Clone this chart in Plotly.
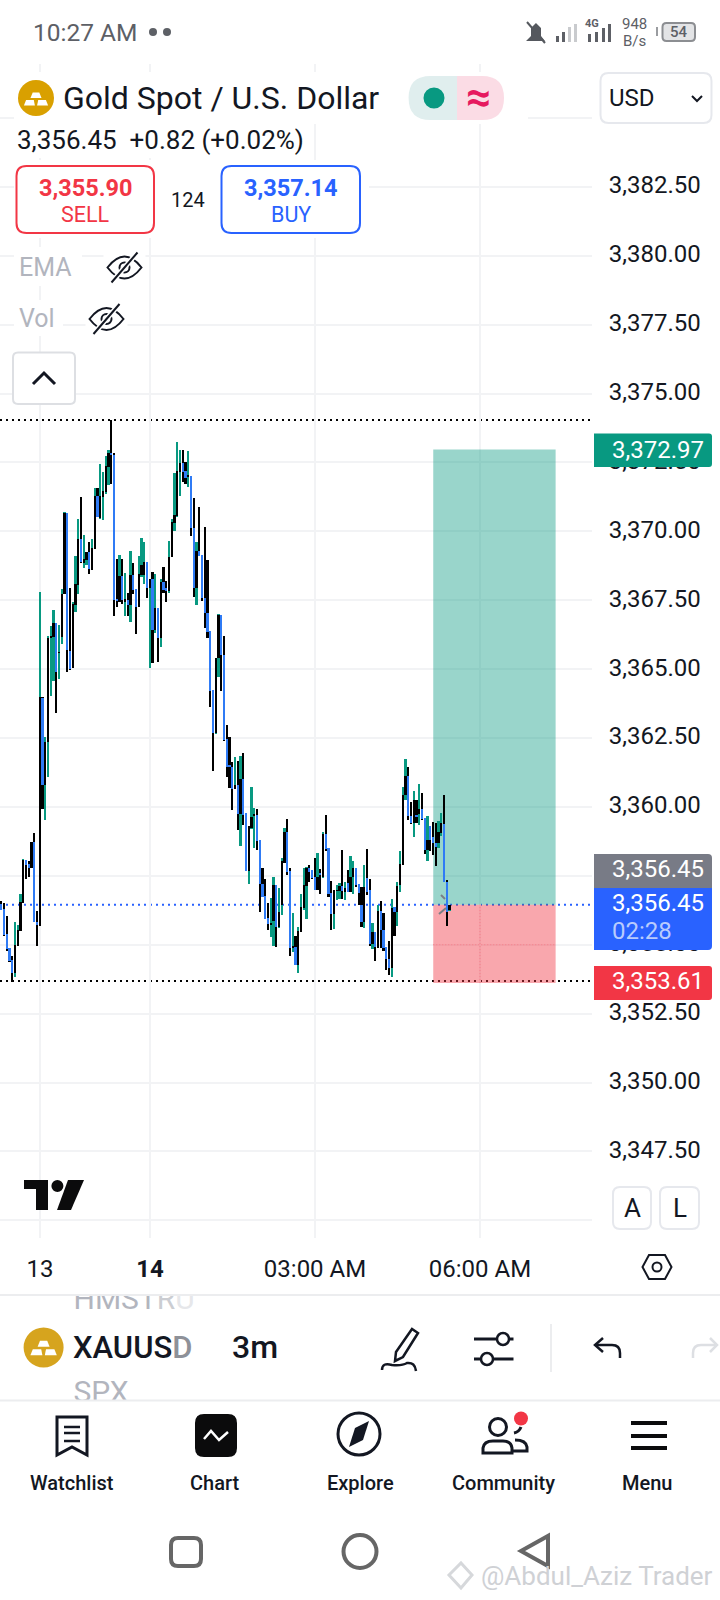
import plotly.graph_objects as go

# 3m XAUUSD bars
bar_open = [
    3356.48, 3356.30, 3355.39, 3354.88, 3354.45, 3353.97, 3354.95, 3355.51, 3356.52, 3358.07,
    3357.93, 3357.79, 3358.73, 3355.83, 3355.68, 3363.94, 3360.79, 3362.35, 3366.16, 3366.18,
    3366.66, 3365.60, 3366.18, 3367.71, 3370.65, 3365.66, 3365.03, 3367.33, 3368.05, 3369.72,
    3368.86, 3368.96, 3369.24, 3368.60, 3369.37, 3371.28, 3370.50, 3371.26, 3371.44, 3372.34,
    3372.85, 3372.77, 3367.55, 3367.45, 3368.39, 3367.47, 3367.51, 3367.33, 3368.41, 3367.91,
    3367.26, 3368.40, 3368.41, 3368.89, 3367.94, 3368.27, 3366.42, 3367.22, 3366.14, 3368.17,
    3367.94, 3367.83, 3369.08, 3370.29, 3370.55, 3372.16, 3372.48, 3372.19, 3371.96, 3372.01,
    3370.13, 3367.93, 3369.29, 3369.14, 3367.59, 3367.04, 3366.38, 3364.24, 3362.69, 3365.39,
    3366.96, 3365.51, 3362.46, 3361.52, 3361.46, 3360.65, 3360.79, 3359.74, 3361.00, 3359.77,
    3357.69, 3359.25, 3359.67, 3359.71, 3358.80, 3357.20, 3356.77, 3355.96, 3355.75, 3355.86,
    3357.17, 3355.65, 3356.44, 3357.98, 3359.10, 3357.67, 3354.87, 3354.93, 3354.26, 3355.47,
    3356.32, 3357.13, 3357.78, 3357.71, 3357.45, 3356.98, 3357.60, 3357.45, 3359.02, 3358.50,
    3356.87, 3356.11, 3356.95, 3356.96, 3357.13, 3356.91, 3357.25, 3356.91, 3357.45, 3357.78,
    3357.19, 3356.44, 3355.83, 3357.41, 3356.98, 3355.03, 3355.46, 3354.89, 3356.22, 3355.53,
    3354.93, 3354.49, 3354.14, 3356.37, 3356.20, 3357.17, 3357.89, 3360.43, 3361.12, 3359.67,
    3359.40, 3359.71, 3359.74, 3359.91, 3359.59, 3358.44, 3359.32, 3358.92, 3358.69, 3358.69,
    3359.04, 3359.38, 3357.29, 3356.26,
]
bar_high = [
    3356.59, 3356.50, 3356.04, 3354.88, 3354.59, 3355.82, 3355.71, 3356.84, 3358.11, 3358.07,
    3358.04, 3358.73, 3359.04, 3356.21, 3367.80, 3364.00, 3362.53, 3366.20, 3366.56, 3367.14,
    3366.66, 3366.60, 3367.90, 3370.69, 3370.66, 3367.93, 3367.43, 3369.10, 3370.44, 3371.23,
    3369.87, 3369.25, 3369.61, 3369.72, 3371.57, 3371.57, 3372.44, 3372.15, 3372.73, 3372.95,
    3374.04, 3372.85, 3369.00, 3369.14, 3369.00, 3368.48, 3367.76, 3369.29, 3368.85, 3367.91,
    3369.10, 3369.76, 3369.61, 3368.89, 3368.27, 3368.51, 3368.45, 3367.22, 3368.26, 3368.70,
    3368.20, 3369.65, 3370.45, 3372.12, 3373.24, 3372.95, 3372.95, 3372.51, 3372.91, 3372.01,
    3371.20, 3369.60, 3370.88, 3369.14, 3370.16, 3368.95, 3366.38, 3364.24, 3365.41, 3367.00,
    3366.96, 3366.20, 3362.97, 3362.54, 3361.63, 3361.81, 3361.67, 3361.85, 3361.96, 3359.77,
    3359.31, 3360.71, 3359.96, 3359.92, 3358.80, 3357.78, 3357.38, 3356.51, 3356.69, 3357.46,
    3357.17, 3357.06, 3358.13, 3359.22, 3359.56, 3357.78, 3356.14, 3355.32, 3355.63, 3356.84,
    3357.78, 3357.82, 3357.89, 3357.71, 3358.13, 3358.32, 3357.75, 3359.10, 3359.71, 3358.50,
    3357.31, 3356.98, 3357.17, 3357.24, 3358.44, 3357.26, 3357.71, 3358.22, 3358.04, 3357.78,
    3357.19, 3357.09, 3357.89, 3358.47, 3357.38, 3355.79, 3355.46, 3356.44, 3356.59, 3356.15,
    3354.93, 3355.15, 3356.66, 3356.37, 3357.26, 3358.40, 3360.73, 3361.74, 3361.44, 3360.19,
    3360.58, 3360.25, 3360.83, 3360.49, 3359.59, 3359.67, 3359.32, 3359.45, 3359.40, 3359.49,
    3359.77, 3360.43, 3357.35, 3356.45,
]
bar_low = [
    3356.26, 3355.32, 3354.78, 3354.38, 3353.66, 3353.84, 3354.95, 3355.51, 3356.52, 3357.37,
    3357.45, 3357.79, 3355.81, 3354.95, 3355.68, 3359.92, 3359.52, 3361.10, 3364.02, 3364.58,
    3363.42, 3364.64, 3365.91, 3367.71, 3364.91, 3364.95, 3365.03, 3367.08, 3367.72, 3368.84,
    3368.68, 3368.78, 3368.46, 3368.60, 3369.37, 3370.53, 3370.45, 3370.41, 3371.35, 3371.68,
    3371.72, 3366.93, 3367.26, 3367.45, 3367.35, 3366.93, 3366.93, 3366.71, 3367.72, 3366.27,
    3367.26, 3368.35, 3368.09, 3367.58, 3365.05, 3365.21, 3366.32, 3365.27, 3365.80, 3367.75,
    3367.45, 3367.77, 3369.08, 3370.01, 3370.53, 3371.29, 3371.80, 3371.72, 3371.62, 3369.83,
    3367.62, 3367.33, 3369.11, 3367.47, 3366.50, 3366.14, 3363.64, 3361.31, 3362.65, 3364.72,
    3364.21, 3362.39, 3361.08, 3360.69, 3359.89, 3360.65, 3359.16, 3358.58, 3359.34, 3357.69,
    3357.20, 3359.20, 3358.51, 3358.44, 3356.19, 3356.73, 3355.93, 3355.53, 3355.28, 3354.95,
    3354.93, 3355.61, 3356.08, 3357.98, 3357.53, 3354.60, 3354.75, 3354.26, 3353.98, 3355.46,
    3356.26, 3355.94, 3357.29, 3357.38, 3356.98, 3356.98, 3356.84, 3357.42, 3358.40, 3356.74,
    3355.53, 3355.57, 3356.62, 3356.66, 3356.66, 3356.62, 3356.91, 3356.91, 3356.84, 3357.10,
    3356.44, 3355.63, 3355.61, 3356.80, 3354.95, 3354.84, 3354.42, 3354.89, 3354.87, 3354.77,
    3354.08, 3353.90, 3353.84, 3355.32, 3355.69, 3356.92, 3357.89, 3360.25, 3359.52, 3359.38,
    3358.92, 3359.42, 3359.34, 3359.52, 3358.29, 3358.05, 3358.40, 3358.25, 3357.86, 3358.52,
    3358.94, 3357.29, 3355.69, 3356.23,
]
bar_close = [
    3356.26, 3355.35, 3354.83, 3354.42, 3353.97, 3354.99, 3355.53, 3356.55, 3358.09, 3357.89,
    3357.78, 3358.73, 3355.81, 3355.71, 3364.00, 3360.79, 3362.37, 3366.13, 3366.17, 3366.66,
    3364.91, 3365.61, 3367.72, 3370.66, 3365.69, 3364.99, 3367.36, 3368.09, 3369.71, 3368.88,
    3368.98, 3369.25, 3368.62, 3369.38, 3371.28, 3370.53, 3371.28, 3371.45, 3372.37, 3372.83,
    3372.80, 3367.51, 3367.47, 3368.38, 3367.51, 3367.53, 3367.33, 3368.41, 3367.87, 3367.26,
    3368.45, 3368.78, 3368.89, 3367.94, 3368.27, 3366.42, 3367.21, 3366.13, 3368.17, 3367.87,
    3367.87, 3369.08, 3370.33, 3370.59, 3372.19, 3372.48, 3372.16, 3371.94, 3372.04, 3370.13,
    3367.93, 3369.29, 3369.11, 3367.59, 3367.02, 3366.36, 3364.21, 3362.69, 3365.41, 3366.96,
    3365.51, 3362.43, 3361.45, 3361.46, 3360.65, 3360.79, 3359.74, 3361.00, 3359.71, 3357.69,
    3359.31, 3359.62, 3359.74, 3358.76, 3357.20, 3356.73, 3355.93, 3355.75, 3355.79, 3357.17,
    3355.65, 3356.18, 3358.04, 3359.10, 3357.65, 3354.87, 3354.95, 3354.26, 3355.50, 3356.36,
    3357.17, 3357.78, 3357.64, 3357.42, 3356.98, 3357.45, 3357.53, 3359.02, 3358.46, 3356.84,
    3356.11, 3356.98, 3356.98, 3357.13, 3356.96, 3357.06, 3356.91, 3357.47, 3357.78, 3357.17,
    3356.87, 3355.83, 3357.08, 3356.92, 3355.03, 3355.46, 3354.93, 3356.22, 3355.53, 3354.87,
    3354.48, 3354.14, 3356.33, 3356.20, 3357.13, 3357.93, 3360.43, 3361.12, 3359.67, 3359.40,
    3360.25, 3359.63, 3359.91, 3359.56, 3358.44, 3358.80, 3358.80, 3358.69, 3358.55, 3359.09,
    3359.40, 3357.29, 3356.20, 3356.45,
]

price_ticks = [3345 + 2.5 * i for i in range(17)]
price_labels = ["", "3,347.50", "3,350.00", "3,352.50", "3,355.00", "3,357.50", "3,360.00", "3,362.50",
                "3,365.00", "3,367.50", "3,370.00", "3,372.50", "3,375.00", "3,377.50", "3,380.00",
                "3,382.50", ""]
time_ticks = [14, 54, 114, 174]
time_labels = ["13", "<b>14</b>", "03:00 AM", "06:00 AM"]

last_price = 3356.45
take_profit = 3372.97
stop_loss = 3353.61
session_high = 3374.04
session_low = 3353.68

TEAL = "#089981"
BLUE = "#2F7BF5"
BADGE_BLUE = "#2962FF"
RED = "#F23645"
INK = "#131722"
GRID = "#F2F3F5"
W, H = 720, 1600
shapes = []
notes = []


def fx(x):
    return x / W


def fy(y):
    return 1 - y / H


def add_path(d_pts, line=None, width=0, fill=None, closed=False):
    d = "M " + " L ".join(f"{fx(x):.5f} {fy(y):.5f}" for x, y in d_pts) + (" Z" if closed else "")
    shapes.append(dict(type="path", xref="paper", yref="paper", path=d, fillcolor=fill or "rgba(0,0,0,0)",
                       line=dict(color=line or "rgba(0,0,0,0)", width=width)))


def add_curve(d, line=None, width=0, fill=None):
    # d holds px pairs as tuples or command letters
    out = []
    for item in d:
        out.append(item if isinstance(item, str) else f"{fx(item[0]):.5f} {fy(item[1]):.5f}")
    shapes.append(dict(type="path", xref="paper", yref="paper", path=" ".join(out),
                       fillcolor=fill or "rgba(0,0,0,0)", line=dict(color=line or "rgba(0,0,0,0)", width=width)))


def add_rect(x0, y0, x1, y1, fill=None, line=None, width=0, r=(0, 0, 0, 0)):
    if not isinstance(r, tuple):
        r = (r, r, r, r)
    tl, tr, br, bl = r
    add_curve(["M", (x0 + tl, y0), "L", (x1 - tr, y0), "Q", (x1, y0), (x1, y0 + tr),
               "L", (x1, y1 - br), "Q", (x1, y1), (x1 - br, y1),
               "L", (x0 + bl, y1), "Q", (x0, y1), (x0, y1 - bl),
               "L", (x0, y0 + tl), "Q", (x0, y0), (x0 + tl, y0), "Z"], line, width, fill)


def add_circle(cx, cy, rx, ry=None, fill=None, line=None, width=0):
    ry = ry or rx
    shapes.append(dict(type="circle", xref="paper", yref="paper", x0=fx(cx - rx), x1=fx(cx + rx),
                       y0=fy(cy + ry), y1=fy(cy - ry), fillcolor=fill or "rgba(0,0,0,0)",
                       line=dict(color=line or "rgba(0,0,0,0)", width=width)))


def add_text(x, y, s, size, color=INK, anchor="left", weight=400):
    notes.append(dict(xref="paper", yref="paper", x=fx(x), y=fy(y), text=s, showarrow=False, xanchor=anchor,
                      yanchor="middle", align=anchor, borderpad=0,
                      font=dict(family="Roboto", size=size, color=color, weight=weight)))


def add_eye(x, y):
    add_rect(x - 21, y - 18, x + 21, y + 18, fill="white")
    add_curve(["M", (x - 17, y), "Q", (x, y - 22), (x + 17, y), "Q", (x, y + 22), (x - 17, y), "Z"], INK, 2)
    add_circle(x, y, 5, line=INK, width=2)
    add_path([(x + 13, y - 15), (x - 13, y + 15)], "white", 5)
    add_path([(x + 13, y - 15), (x - 13, y + 15)], INK, 2)


def add_gold_bars(cx, cy, scale, color):
    add_path([(cx - 5 * scale, cy - 1 * scale), (cx - 3 * scale, cy - 6 * scale), (cx + 3 * scale, cy - 6 * scale),
              (cx + 5 * scale, cy - 1 * scale)], fill=color, closed=True)
    add_path([(cx - 11 * scale, cy + 6 * scale), (cx - 9 * scale, cy + 1 * scale), (cx - 2 * scale, cy + 1 * scale),
              (cx - 1 * scale, cy + 6 * scale)], fill=color, closed=True)
    add_path([(cx + 1 * scale, cy + 6 * scale), (cx + 2 * scale, cy + 1 * scale), (cx + 9 * scale, cy + 1 * scale),
              (cx + 11 * scale, cy + 6 * scale)], fill=color, closed=True)


# candles: up = teal wick / black body, down = black wick / blue body
idx = list(range(len(bar_open)))
up = [c >= o for o, c in zip(bar_open, bar_close)]
wick = go.Bar(x=idx, base=bar_low, y=[h - l for h, l in zip(bar_high, bar_low)], width=0.72,
              marker=dict(color=[TEAL if u else "black" for u in up], line_width=0), hoverinfo="skip")
body = go.Bar(x=idx, base=[min(o, c) for o, c in zip(bar_open, bar_close)],
              y=[abs(c - o) for o, c in zip(bar_open, bar_close)], width=0.72,
              marker=dict(color=["black" if u else BLUE for u in up], line_width=0), hoverinfo="skip")

# fading symbol names in the ticker strip, clipped by their own little subplot
ticker_names = go.Scatter(x=[73.5, 73.5], y=[1301, 1394], xaxis="x2", yaxis="y2", mode="text",
                          text=["HMST<span style='color:#CBCDD2'>R</span><span style='color:#E6E7EA'>U</span>", "SPX"],
                          textposition="middle right", cliponaxis=True,
                          textfont=dict(family="Roboto", size=30, color="#B2B5BE"), hoverinfo="skip")

# position tool and price lines, above the grid and under the candles
box_x0, box_x1 = 157, 201.5
below = [
    dict(type="rect", xref="x", yref="y", x0=box_x0, x1=box_x1, y0=last_price, y1=take_profit, layer="between",
         fillcolor="rgba(8,153,129,0.41)", line_width=0),
    dict(type="rect", xref="x", yref="y", x0=box_x0, x1=box_x1, y0=stop_loss, y1=last_price, layer="between",
         fillcolor="rgba(242,54,69,0.44)", line_width=0),
    dict(type="line", xref="x", yref="y", x0=box_x0, x1=box_x1, y0=3355, y1=3355, layer="between",
         line=dict(color="#F77F8B", width=1, dash="1px,2px")),
    dict(type="line", xref="x", yref="y", x0=174, x1=174, y0=stop_loss, y1=last_price, layer="between",
         line=dict(color="#F77F8B", width=1, dash="1px,2px")),
]
for price, color in [(session_high, "black"), (session_low, "black"), (last_price, BADGE_BLUE)]:
    below.append(dict(type="line", xref="paper", yref="y", x0=0, x1=fx(590), y0=price, y1=price, layer="between",
                      line=dict(color=color, width=2, dash="2px,4px")))
shapes.extend(below)

# small crosshair ticks next to the last bar
add_path([(441, 895), (445, 899)], "#7B7E85", 2)
add_path([(439, 914), (446, 908)], "#7B7E85", 2)

# price badges
add_rect(594, 433.5, 712, 467, fill=TEAL, r=(0, 3, 3, 0))
add_rect(594, 854, 712, 888, fill="#787B86", r=(0, 4, 0, 0))
add_rect(594, 888, 712, 950, fill=BADGE_BLUE, r=(0, 0, 4, 0))
add_rect(594, 966, 712, 1000, fill=RED, r=(0, 3, 3, 0))
add_text(610.7, 450, "3,372.97", 24, "white")
add_text(610.7, 869, "3,356.45", 24, "white")
add_text(610.7, 903, "3,356.45", 24, "white")
add_text(610.7, 931, "02:28", 24, "#B9CBFD")
add_text(610.7, 981, "3,353.61", 24, "white")

# status bar
add_text(32, 32, "10:27 AM", 24.5, "#5D6066")
add_circle(153, 32, 4, fill="#5D6066")
add_circle(167, 32, 4, fill="#5D6066")
add_path([(526, 41), (531, 36), (531, 28), (536, 23), (541, 28), (541, 36), (545, 41)], fill="#55585E", closed=True)
add_path([(527, 22), (545, 43)], "#55585E", 2)
for x, top, col in [(556, 36, "#5D6066"), (562, 32, "#5D6066"), (568, 27, "#C9CBCE"), (574, 24, "#C9CBCE")]:
    add_rect(x, top, x + 3, 42, fill=col)
for x, top in [(588, 34), (595, 32), (602, 28), (608, 24)]:
    add_rect(x, top, x + 3, 42, fill="#5D6066")
add_text(592, 23, "4G", 11, "#5D6066", "center", 700)
add_text(634, 24, "948", 15, "#5D6066", "center")
add_text(634, 41, "B/s", 15, "#5D6066", "center")
add_rect(656, 27, 658, 36, fill="#9A9CA0")
add_rect(662.5, 23, 695, 41, fill="#E3E4E6", line="#8C8E92", width=2, r=4)
add_text(678.6, 32, "54", 15, "#5D6066", "center", 500)

# header: masks keep the grid away from the legend
for box in [(14, 72, 528, 124), (14, 124, 305, 158), (14, 160, 369, 238), (14, 247, 82, 286), (14, 300, 63, 336)]:
    add_rect(*box, fill="white")
add_circle(36, 98, 18, fill="#D9A000")
add_gold_bars(36, 99, 1.1, "white")
add_text(62, 98.5, "Gold Spot / U.S. Dollar", 32, INK)
add_rect(408.6, 76, 457, 120, fill="#E0EEEE", r=(22, 0, 0, 22))
add_rect(457, 76, 504, 120, fill="#FBDCE5", r=(0, 22, 22, 0))
add_circle(434, 98, 10.5, fill=TEAL)
add_text(478, 97, "<b>≈</b>", 44, "#E6195F", "center")
add_rect(600.5, 73, 711.5, 123, fill="white", line="#E6E8ED", width=2, r=8)
add_text(608, 98, "USD", 24, INK)
add_path([(692, 96), (697, 101), (702, 96)], INK, 2)
add_text(16, 140, "3,356.45&#160;&#160;+0.82 (+0.02%)", 26, INK)
add_rect(16.5, 166, 154, 233, fill="white", line=RED, width=2, r=10)
add_text(85.5, 188, "3,355.90", 23.5, RED, "center", 700)
add_text(85.5, 214, "SELL", 21.5, RED, "center")
add_text(188, 200, "124", 20, INK, "center")
add_rect(221.5, 166, 360, 233, fill="white", line=BADGE_BLUE, width=2, r=10)
add_text(290.7, 188, "3,357.14", 23.5, BADGE_BLUE, "center", 700)
add_text(290.7, 214, "BUY", 21.5, BADGE_BLUE, "center")
add_text(18, 267, "EMA", 25, "#B2B5BE")
add_text(18, 319, "Vol", 25, "#B2B5BE")
add_eye(124.5, 267.5)
add_eye(106.5, 319)
add_rect(13, 352.5, 75, 404, fill="white", line="#DDDFE3", width=2, r=5)
add_path([(33, 384), (44, 373), (55, 384)], INK, 3)

# tradingview mark
add_path([(24, 1180), (48, 1180), (48, 1210), (36, 1210), (36, 1189), (24, 1189)], fill="#0B0B0C", closed=True)
add_circle(57.4, 1186, 6, fill="#0B0B0C")
add_path([(68, 1180), (84, 1180), (71, 1210), (57, 1210)], fill="#0B0B0C", closed=True)

# A / L buttons and the settings hexagon
add_rect(613, 1187, 651, 1229, fill="white", line="#E6E8ED", width=2, r=7)
add_rect(660, 1187, 699, 1229, fill="white", line="#E6E8ED", width=2, r=7)
add_text(632, 1208, "A", 26, INK, "center")
add_text(679.5, 1208, "L", 26, INK, "center")
add_path([(649, 1255), (665, 1255), (671.5, 1267), (665, 1279), (649, 1279), (642.5, 1267)], INK, 2, closed=True)
add_circle(657, 1267, 4.5, line=INK, width=2)

# ticker strip
add_path([(0, 1295), (720, 1295)], "#ECEDEF", 2)
add_path([(0, 1400.5), (720, 1400.5)], "#ECEDEF", 2)
add_circle(43.6, 1347.5, 20, fill="#D6A41E")
add_gold_bars(43.6, 1348, 1.2, "white")
add_text(72, 1347, "XAUUS<span style='color:#8E9198'>D</span>", 31, INK, weight=500)
add_text(231, 1347, "3m", 32, INK, weight=500)
add_path([(396, 1352), (412, 1329), (418, 1333), (403, 1357), (395, 1361)], INK, 2.5, closed=True)
add_curve(["M", (382, 1370), "Q", (382, 1362), (392, 1365), "Q", (402, 1366), (407, 1363), "Q", (415, 1362), (416, 1371)],
          INK, 2.5)
add_path([(474, 1339), (497, 1339)], INK, 3)
add_path([(509, 1339), (513.5, 1339)], INK, 3)
add_circle(503, 1339, 6, line=INK, width=2.5)
add_path([(474, 1359), (481, 1359)], INK, 3)
add_path([(493, 1359), (513.5, 1359)], INK, 3)
add_circle(487, 1359, 6, line=INK, width=2.5)
add_path([(551, 1324), (551, 1372)], "#ECEDEF", 2)
add_curve(["M", (620, 1358), "L", (620, 1353), "Q", (620, 1345), (612, 1345), "L", (596, 1345)], INK, 2.5)
add_path([(603, 1338), (595, 1345), (603, 1352)], INK, 2.5)
add_curve(["M", (693, 1358), "L", (693, 1353), "Q", (693, 1345), (701, 1345), "L", (716, 1345)], "#DDDFE3", 2.5)
add_path([(710, 1338), (717, 1345), (710, 1352)], "#DDDFE3", 2.5)

# bottom navigation
add_path([(57, 1417), (87, 1417), (87, 1455), (72, 1447), (57, 1455)], INK, 3, closed=True)
for y in [1427, 1433, 1441]:
    add_path([(64, y), (80, y)], INK, 2.5)
add_rect(195, 1414, 237, 1457, fill="#0B0B0C", r=9)
add_path([(204, 1439), (211, 1431), (219, 1440), (228, 1432)], "white", 2.5)
add_circle(359, 1434, 21, line=INK, width=3)
add_path([(369, 1421), (363, 1440), (349, 1447), (355, 1428)], fill=INK, closed=True)
add_circle(498, 1427, 8.5, line=INK, width=3)
add_curve(["M", (483, 1453), "L", (483, 1448), "Q", (484, 1441), (493, 1441), "L", (503, 1441), "Q", (511, 1441),
           (512, 1448), "L", (512, 1453), "Z"], INK, 3)
add_curve(["M", (514, 1433), "Q", (519, 1432), (521, 1427)], INK, 3)
add_curve(["M", (515, 1440), "Q", (526, 1440), (527, 1447), "L", (527, 1451), "L", (513, 1451)], INK, 3)
add_circle(521, 1418.5, 7, fill=RED)
for y in [1423, 1436, 1448]:
    add_path([(631, y), (667, y)], "#0B0B0C", 4)
for x, label in [(72, "Watchlist"), (215, "Chart"), (360, "Explore"), (504, "Community"), (647, "Menu")]:
    add_text(x, 1483, label, 20, INK, "center", 500)

# android keys
add_rect(171, 1538, 201, 1566, line="#666666", width=4, r=7)
add_circle(360, 1551.5, 16.5, line="#666666", width=4)
add_path([(548, 1536), (548, 1566), (521, 1551)], "#666666", 4, closed=True)

# watermark
add_path([(461, 1563), (472, 1575), (461, 1588), (449, 1575)], "#D6D8DB", 3, closed=True)
add_text(480, 1576, "@Abdul_Aziz Trader", 26, "#CFD1D5")

fig = go.Figure(data=[wick, body, ticker_names])
fig.update_layout(
    width=W, height=H, autosize=False, barmode="overlay", showlegend=False, bargap=0,
    margin=dict(l=0, r=0, t=0, b=0), paper_bgcolor="white", plot_bgcolor="white",
    shapes=shapes, annotations=notes,
    xaxis=dict(domain=[0, fx(592)], range=[-0.545, 214.73], tickmode="array", tickvals=time_ticks,
               ticktext=time_labels, showgrid=True, gridcolor=GRID, gridwidth=2, zeroline=False, showline=False,
               ticks="outside", ticklen=9, tickcolor="rgba(0,0,0,0)",
               tickfont=dict(family="Roboto", size=24, color=INK), anchor="y"),
    yaxis=dict(domain=[fy(1238), fy(64)], range=[3344.358, 3386.956], side="right", tickmode="array",
               tickvals=price_ticks, ticktext=price_labels, showgrid=True, gridcolor=GRID, gridwidth=2,
               zeroline=False, showline=False, ticks="outside", ticklen=11, tickcolor="rgba(0,0,0,0)",
               ticklabelshift=-2, tickfont=dict(family="Roboto", size=24, color=INK), anchor="x"),
    xaxis2=dict(domain=[0, 1], range=[0, W], visible=False, anchor="y2"),
    yaxis2=dict(domain=[fy(1400), fy(1296)], range=[1400, 1296], visible=False, anchor="x2"),
)

fig.write_html("out.html", config=dict(displayModeBar=False),
               post_script="document.body.style.margin='0';")
